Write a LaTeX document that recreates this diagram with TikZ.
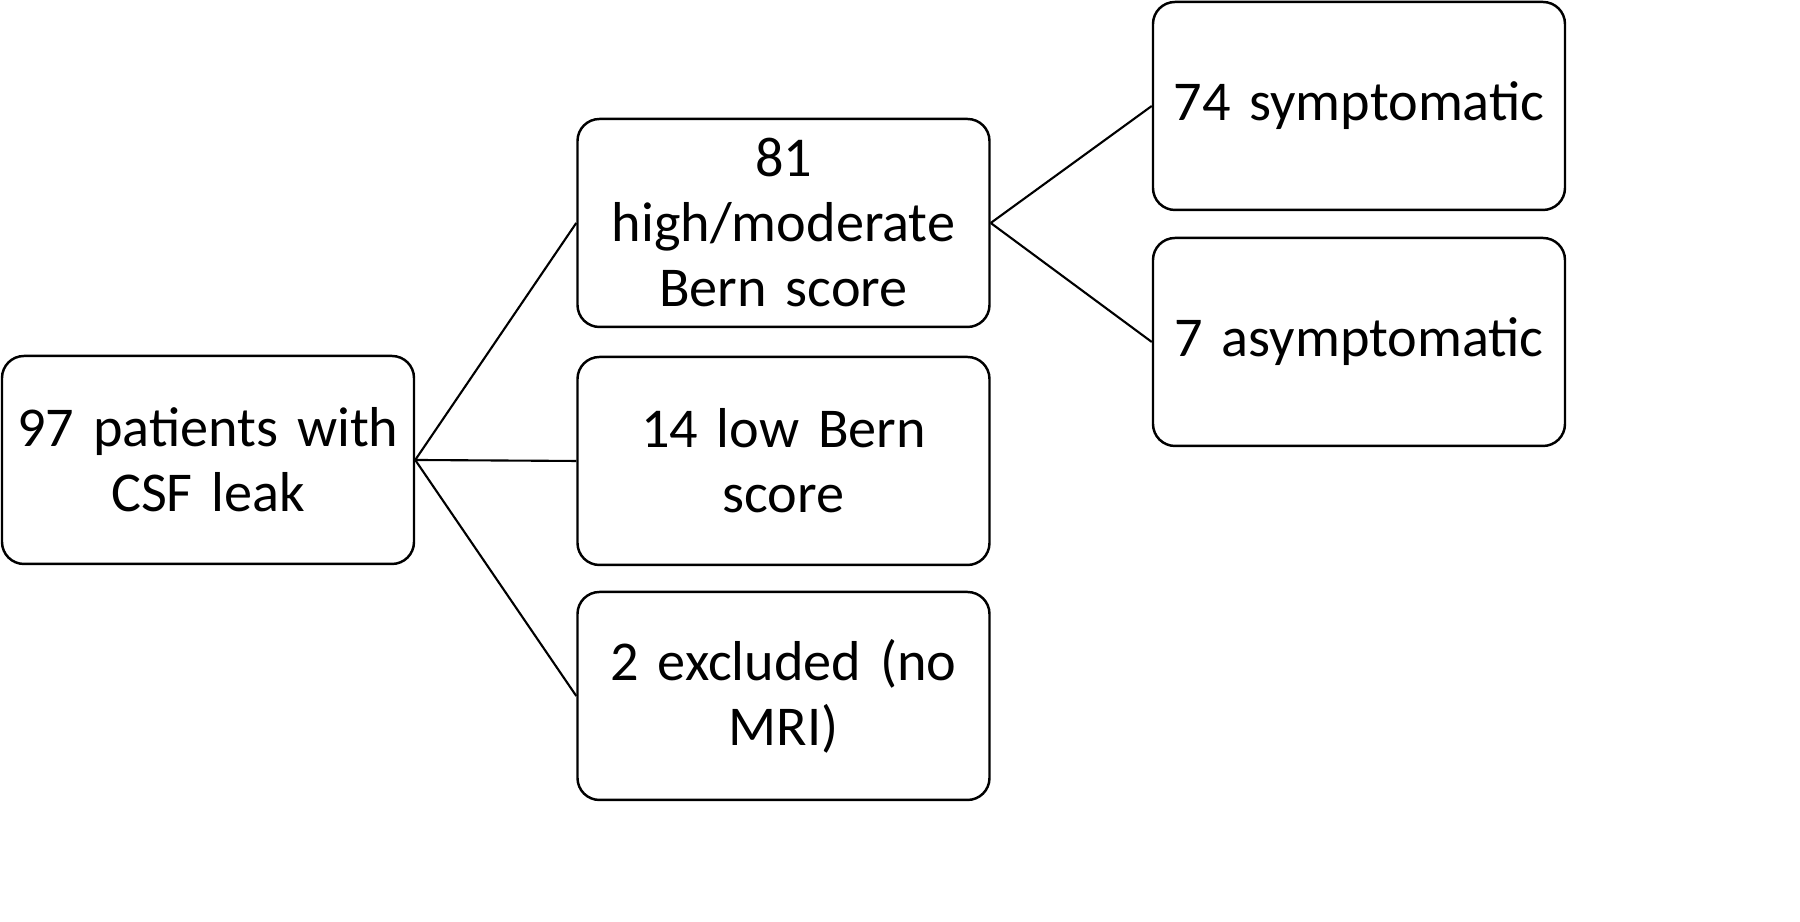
\documentclass[tikz,border=0pt]{standalone}
\usepackage{fontspec}
\setmainfont{Carlito}
\usetikzlibrary{positioning}
\begin{document}
\begin{tikzpicture}[
        box/.style={draw, rounded corners=0.22cm, line width=0.7pt, minimum width=4.12cm, minimum height=2.08cm,
          text width=4cm, align=center, font=\fontsize{16}{18.5}\selectfont, inner sep=0pt},
        link/.style={line width=0.6pt}
      ]
  \useasboundingbox (0,0) rectangle (18,9.22);

  % root
  \node[box] (root) at (2.08,4.62) {97 patients with\\ CSF leak};

  % second level
  \node[box] (high) at (7.835,6.99) {81\\ high/moderate\\ Bern score};
  \node[box] (low) at (7.835,4.61) {14 low Bern\\ score};
  \node[box] (excl) at (7.835,2.26) {2 excluded (no\\ MRI)};

  % third level
  \node[box] (sym) at (13.59,8.16) {74 symptomatic};
  \node[box] (asym) at (13.59,5.8) {7 asymptomatic};

  \foreach \t in {high,low,excl}
    \draw[link] (root.east) -- (\t.west);
  \foreach \t in {sym,asym}
    \draw[link] (high.east) -- (\t.west);
\end{tikzpicture}
\end{document}
